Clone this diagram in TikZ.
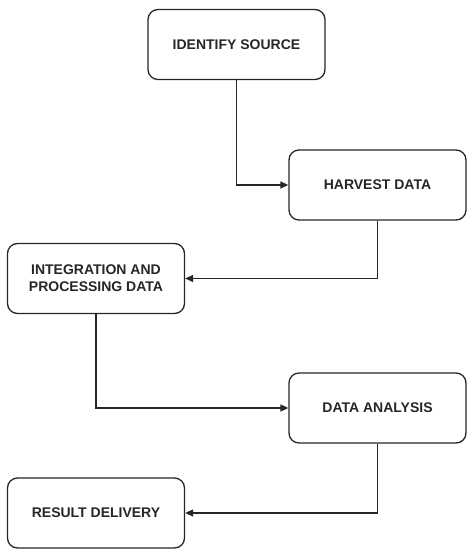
\documentclass[tikz,border=0pt]{standalone}
\usepackage{fontspec}
\setmainfont{Liberation Sans}
\usetikzlibrary{arrows.meta}
\begin{document}
\begin{tikzpicture}[x=1pt,y=-1pt,
  box/.style={draw=black!85, line width=1.3pt, rounded corners=10pt, minimum width=177pt, minimum height=70pt, align=center, font=\fontsize{14}{17}\selectfont\bfseries, text=black!85, inner sep=0pt},
  conn/.style={draw=black!85, line width=1.3pt, -{Triangle[length=8pt,width=7pt]}}]
\useasboundingbox (0,0) rectangle (474,551);
\node[box] (src) at (236.5,44.5) {IDENTIFY SOURCE};
\node[box] (harv) at (377.5,185) {HARVEST DATA};
\node[box] (integ) at (96,278.5) {INTEGRATION AND\\PROCESSING DATA};
\node[box] (anal) at (377.5,408) {DATA ANALYSIS};
\node[box] (res) at (96,513) {RESULT DELIVERY};
\draw[conn] (src.south) |- (harv.west);
\draw[conn] (harv.south) |- (integ.east);
\draw[conn] (integ.south) |- (anal.west);
\draw[conn] (anal.south) |- (res.east);
\end{tikzpicture}
\end{document}
